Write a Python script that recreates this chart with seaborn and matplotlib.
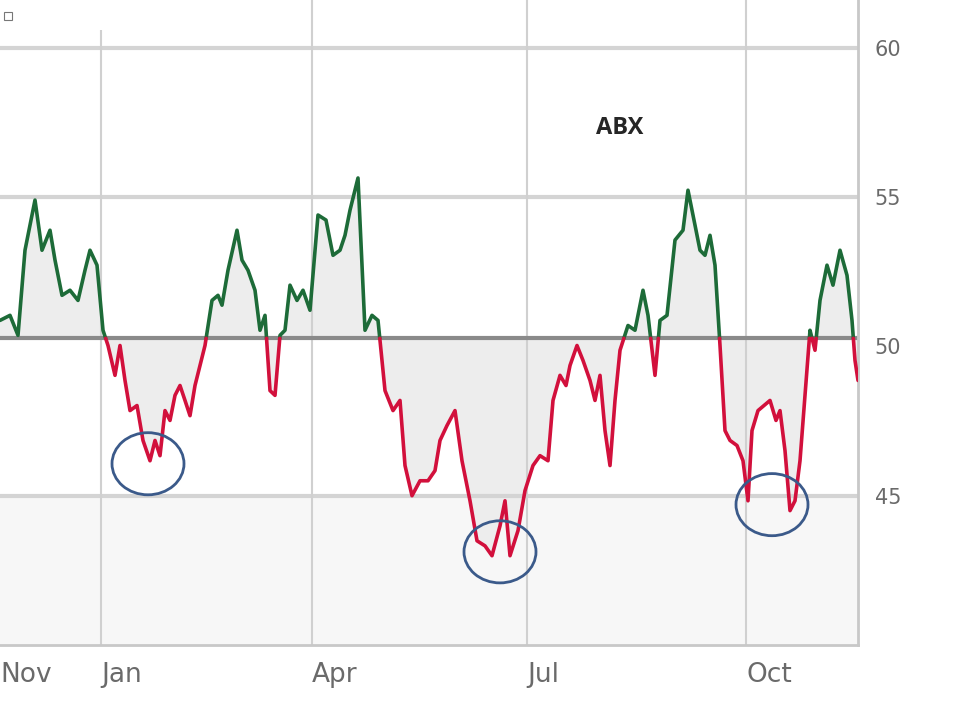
import numpy as np
import pandas as pd
import seaborn as sns
import matplotlib.pyplot as plt
from matplotlib.patches import Ellipse, Rectangle

# x position (chart units), price values
xs = [0, 10, 18, 25, 35, 42, 50, 55, 62, 70, 78, 85, 90, 97, 103, 108, 115, 120, 125, 130,
      137, 143, 150, 155, 160, 165, 170, 175, 180, 185, 190, 195, 205, 212, 218, 222, 228, 237,
      242, 248, 255, 260, 265, 270, 275, 280, 285, 290, 297, 303, 310, 318, 326, 333, 340, 345,
      350, 358, 365, 372, 378, 385, 393, 400, 405, 412, 420, 428, 435, 440, 447, 455, 462, 470,
      477, 485, 492, 500, 505, 510, 518, 525, 533, 540, 548, 553, 560, 566, 570, 577, 583, 590,
      595, 600, 605, 610, 615, 620, 628, 635, 643, 648, 655, 660, 667, 675, 683, 688, 695, 700,
      705, 710, 715, 720, 725, 730, 737, 743, 748, 752, 758, 764, 770, 776, 780, 785, 790, 795,
      800, 805, 810, 815, 820, 827, 833, 840, 847, 852, 855, 858]
ys_px = [320, 315, 335, 250, 200, 250, 230, 260, 295, 290, 300, 270, 250, 265, 330, 345, 375,
         345, 380, 410, 405, 440, 460, 440, 455, 410, 420, 395, 385, 400, 415, 385, 345, 300,
         295, 305, 270, 230, 260, 270, 290, 330, 315, 390, 395, 335, 330, 285, 300, 290, 310,
         215, 220, 255, 250, 235, 210, 178, 330, 315, 320, 390, 410, 400, 465, 495, 480, 480,
         470, 440, 425, 410, 460, 500, 540, 545, 555, 525, 500, 555, 530, 490, 465, 455, 460,
         400, 375, 385, 365, 345, 360, 380, 400, 375, 430, 465, 400, 350, 325, 330, 290, 315,
         375, 320, 315, 240, 230, 190, 225, 250, 255, 235, 265, 345, 430, 440, 445, 460, 500,
         430, 410, 405, 400, 420, 410, 450, 510, 500, 460, 395, 330, 350, 300, 265, 285, 250,
         275, 320, 360, 380]
prices = [round(50 - (p - 346) / 29.8, 2) for p in ys_px]
baseline = 50.27
month_pos = [0, 101, 312, 527, 746]
month_labels = ["Nov", "Jan", "Apr", "Jul", "Oct"]
y_ticks = [45, 50, 55, 60]

# split line at baseline crossings so each piece gets one colour
x = np.array(xs, float)
y = np.array(prices, float)
rows, seg = [], 0
side = y[0] >= baseline
rows.append((x[0], y[0], seg, side))
for i in range(1, len(x)):
    s = y[i] >= baseline
    if s != side:
        t = (baseline - y[i-1]) / (y[i] - y[i-1])
        xc = x[i-1] + t * (x[i] - x[i-1])
        rows.append((xc, baseline, seg, side))
        seg += 1
        side = s
        rows.append((xc, baseline, seg, side))
    rows.append((x[i], y[i], seg, side))
df = pd.DataFrame(rows, columns=["x", "price", "seg", "up"])
df["dir"] = np.where(df["up"], "up", "down")

sns.set_style("white")
fig = plt.figure(figsize=(9.6, 7.2), dpi=100)
ax = fig.add_axes([0, 75 / 720, 858 / 960, 645 / 720])

ax.set_xlim(0, 858)
ax.set_ylim(40.0, 61.6)
ax.fill_between([0, 858], 40, 45, color="#f7f7f7", zorder=0)
ax.fill_between(df["x"], df["price"], baseline, color="#ededed", zorder=1)
for yt in [45, 55, 60]:
    ax.axhline(yt, color="#d4d4d4", lw=3, zorder=1)
for xp in month_pos[1:]:
    ax.axvline(xp, color="#d0d0d0", lw=1.5, zorder=1)
ax.axhline(baseline, color="#8a8a8a", lw=3, zorder=2)

sns.lineplot(data=df, x="x", y="price", hue="dir", units="seg", estimator=None,
             palette={"up": "#1d6b38", "down": "#d2103c"}, lw=2.6, ax=ax,
             legend=False, sort=False, zorder=3)

for cx, cy in [(148, 46.07), (500, 43.12), (772, 44.70)]:
    ax.add_patch(Ellipse((cx, cy), 72, 2.08, fill=False, ec="#3b5a8a", lw=2, zorder=4))
ax.text(620, 57.3, "ABX", fontsize=17, fontweight="bold", ha="center", va="center",
        family="Open Sans")

ax.set_xticks(month_pos)
ax.set_xticklabels(month_labels, fontsize=19, color="#6a6a6a", ha="left")
ax.yaxis.tick_right()
ax.set_yticks(y_ticks)
ax.set_yticklabels([str(v) for v in y_ticks], fontsize=15, color="#6a6a6a")
ax.tick_params(length=0, pad=12)
ax.set_xlabel("")
ax.set_ylabel("")
for sp in ["top", "left"]:
    ax.spines[sp].set_visible(False)
ax.spines["right"].set_color("#c8c8c8")
ax.spines["right"].set_linewidth(2)
ax.spines["bottom"].set_color("#c8c8c8")
ax.spines["bottom"].set_linewidth(2)

# white box in the top-left corner with the tiny square
fig.patches.append(Rectangle((0, 690 / 720), 145 / 960, 30 / 720, transform=fig.transFigure,
                             fc="white", ec="none", zorder=5))
fig.patches.append(Rectangle((4 / 960, 700 / 720), 8 / 960, 8 / 720, transform=fig.transFigure,
                             fc="white", ec="#777777", lw=0.8, zorder=6))

fig.savefig("out.png", dpi=100)
